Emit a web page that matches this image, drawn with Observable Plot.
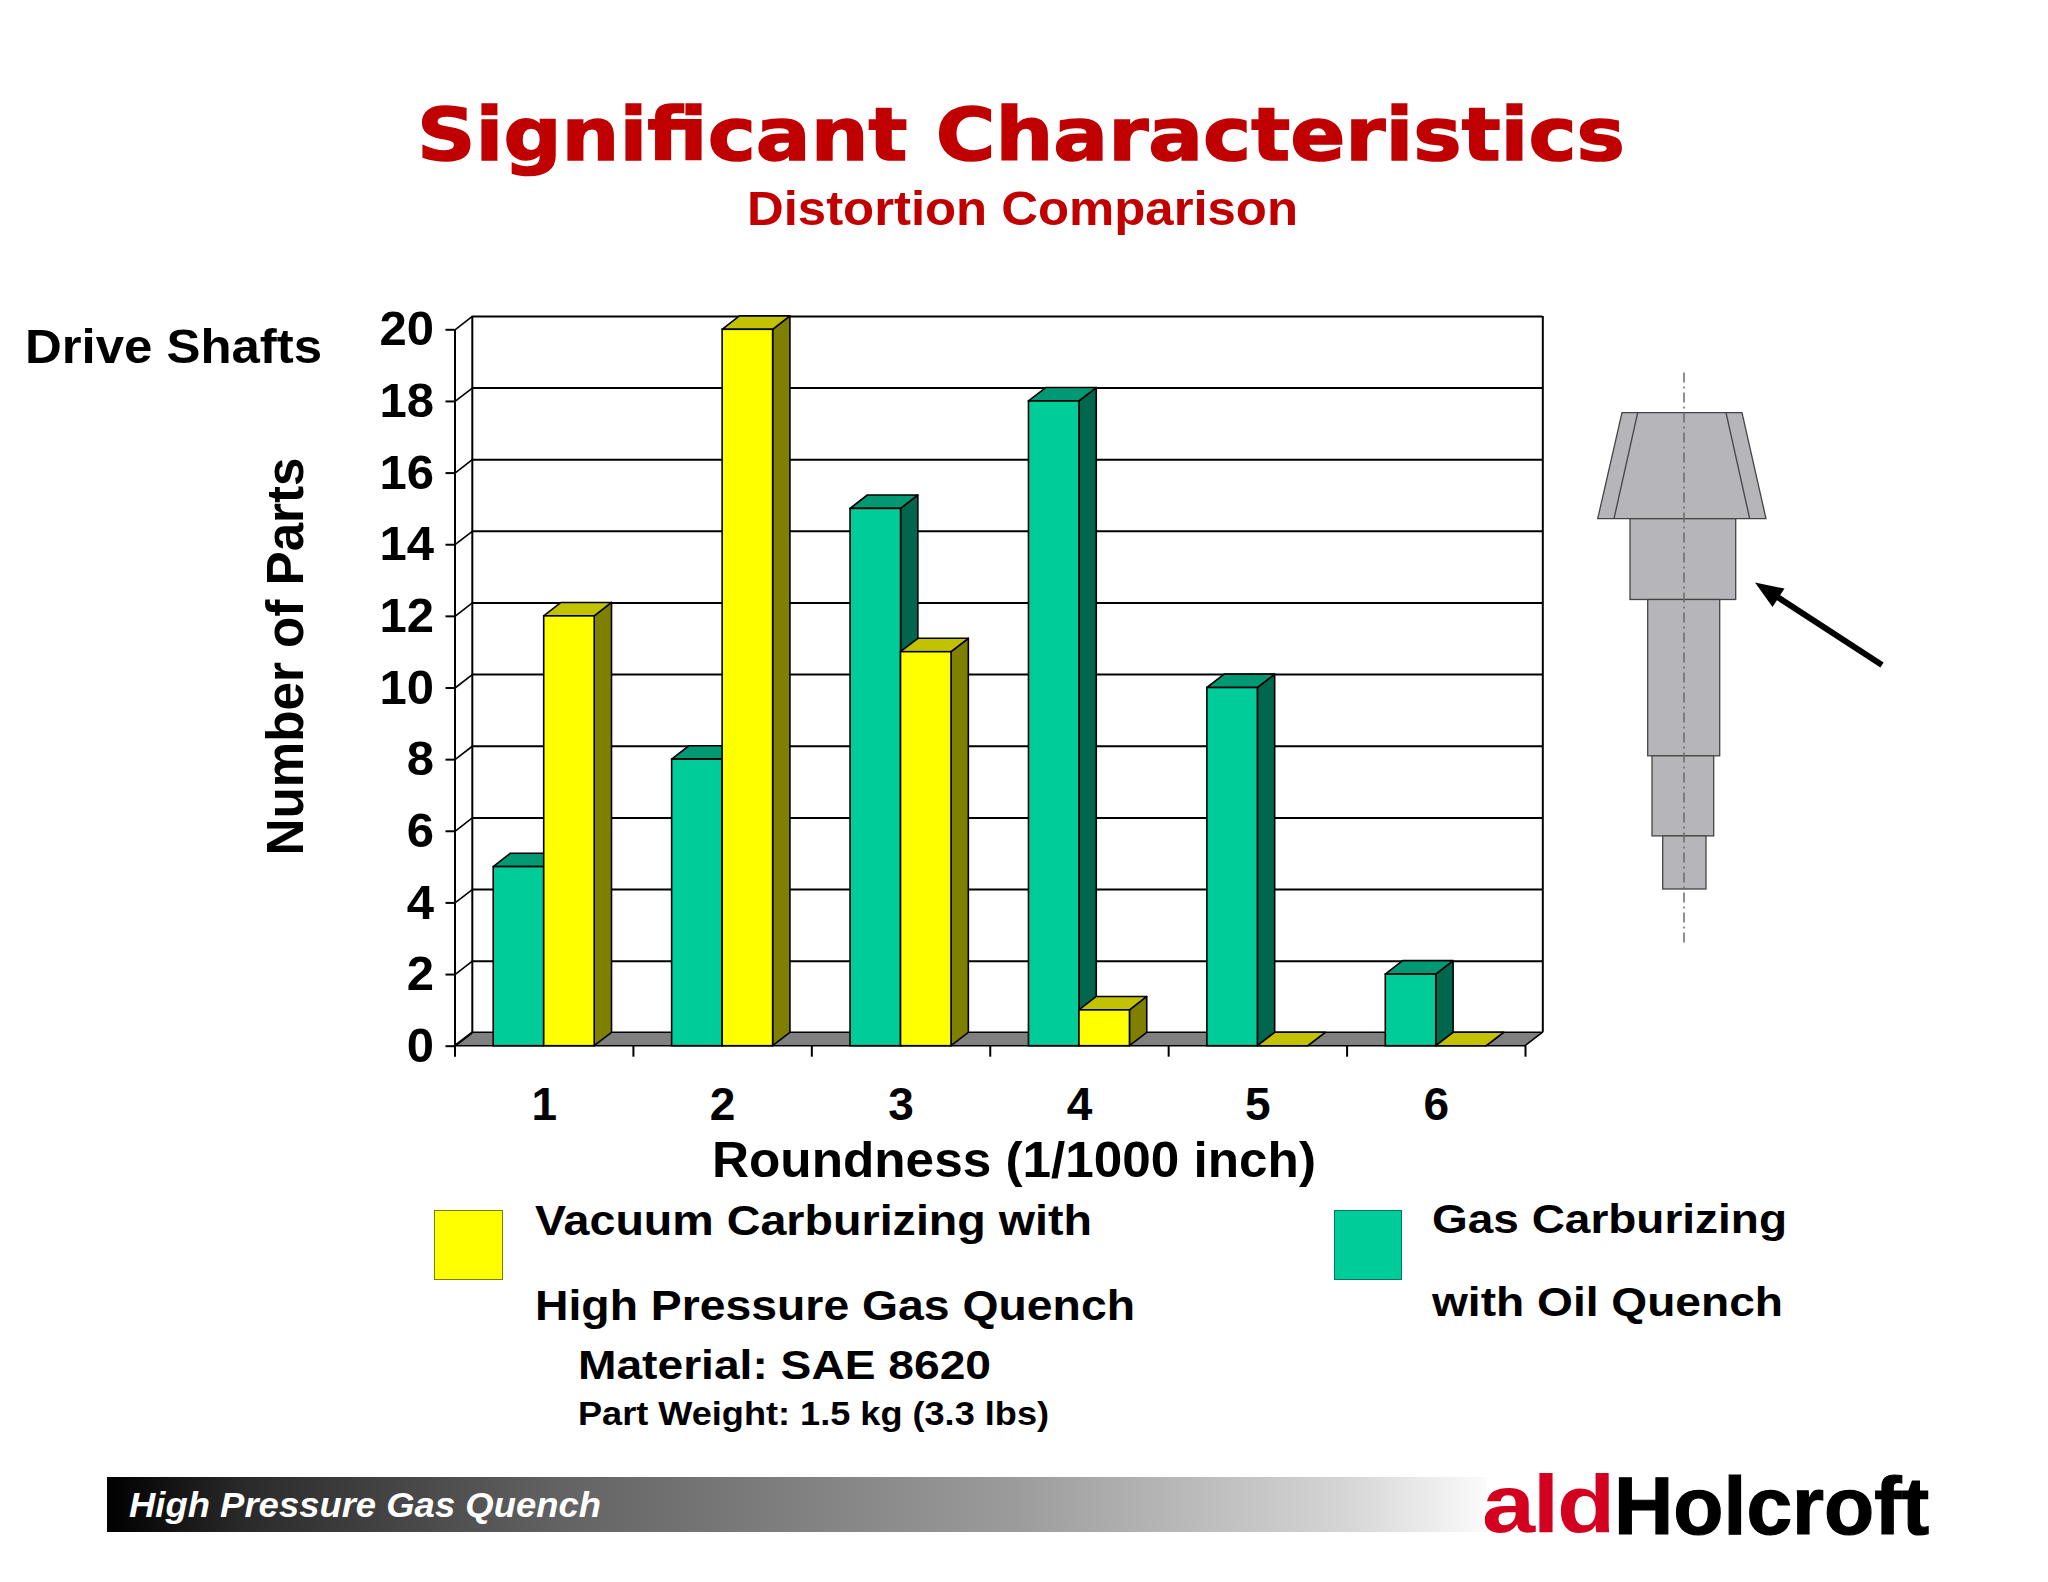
<!DOCTYPE html>
<html>
<head>
<meta charset="utf-8">
<script src="https://cdn.jsdelivr.net/npm/d3@7"></script>
<script src="https://cdn.jsdelivr.net/npm/@observablehq/plot@0.6"></script>
<style>
  html, body { margin: 0; padding: 0; background: #fff; }
  #page { position: relative; width: 2048px; height: 1582px; background: #fff; overflow: hidden; }
  #chart { position: absolute; left: 0; top: 0; }
  .t { position: absolute; white-space: nowrap; line-height: 1; font-family: "Liberation Sans", Arial, sans-serif; font-weight: bold; color: #000; transform-origin: 0 0; }
  .sw { position: absolute; box-sizing: border-box; }
  #deco { position: absolute; left: 0; top: 0; }
  #footbar { position: absolute; left: 107px; top: 1477px; width: 1380px; height: 55px;
    background: linear-gradient(to right, #000 0%, #2a2a2a 10%, #636363 33%, #9c9c9c 66%, #d6d6d6 90%, #fbfbfb 100%); }
</style>
</head>
<body>
<div id="page">
  <div id="chart"></div>
  <svg id="deco" width="2048" height="1582" viewBox="0 0 2048 1582">
    <g fill="#b5b5ba" stroke="#444" stroke-width="1.3">
      <polygon points="1622,412.7 1742,412.7 1766,518.7 1597.7,518.7"/>
      <line x1="1637.7" y1="412.7" x2="1614" y2="518.7"/>
      <line x1="1726" y1="412.7" x2="1749.7" y2="518.7"/>
      <rect x="1630" y="518.7" width="105.7" height="80.8"/>
      <rect x="1647.7" y="599.5" width="72" height="156.3"/>
      <rect x="1652" y="755.8" width="61.7" height="80.1"/>
      <rect x="1662.7" y="835.9" width="43.3" height="53.1"/>
    </g>
    <line x1="1684" y1="372.6" x2="1684" y2="944.6" stroke="#6a6a6a" stroke-width="1.5" stroke-dasharray="10 4 2 4"/>
    <line x1="1882" y1="665" x2="1776" y2="596" stroke="#000" stroke-width="6"/>
    <polygon points="1755,582.5 1784.5,588.6 1772.5,607" fill="#000"/>
  </svg>

  <div class="t fit" data-w="1208" style="left:416.7px; top:98.2px; font-size:73px; font-family:'DejaVu Sans', sans-serif; color:#c00000; -webkit-text-stroke:1.6px #c00000;">Significant Characteristics</div>
  <div class="t fit" data-w="551" style="left:747px; top:183.5px; font-size:49px; color:#c00000;">Distortion Comparison</div>
  <div class="t fit" data-w="297" style="left:25px; top:322.5px; font-size:48px;">Drive Shafts</div>
  <div class="t" id="ylab" style="font-size:51px;">Number of Parts</div>
  <div class="t fit" data-w="604" style="left:711.6px; top:1135px; font-size:50px;">Roundness (1/1000 inch)</div>

  <div class="sw" style="left:434.4px; top:1210px; width:69px; height:70px; background:#ffff00; border:1.5px solid #7d7d00;"></div>
  <div class="t fit" data-w="557" style="left:534.8px; top:1199.3px; font-size:43px;">Vacuum Carburizing with</div>
  <div class="t fit" data-w="600" style="left:534.8px; top:1284.3px; font-size:43px;">High Pressure Gas Quench</div>
  <div class="t fit" data-w="413" style="left:577.9px; top:1344.6px; font-size:41px;">Material: SAE 8620</div>
  <div class="t fit" data-w="471" style="left:577.9px; top:1396.5px; font-size:33px;">Part Weight: 1.5 kg (3.3 lbs)</div>

  <div class="sw" style="left:1334.4px; top:1210px; width:68px; height:70px; background:#00cc99; border:1.5px solid #007a5c;"></div>
  <div class="t fit" data-w="355" style="left:1432px; top:1198.6px; font-size:41px;">Gas Carburizing</div>
  <div class="t fit" data-w="351" style="left:1432px; top:1282px; font-size:41px;">with Oil Quench</div>

  <div id="footbar"></div>
  <div class="t fit" data-w="472" style="left:128.5px; top:1487.1px; font-size:35px; font-style:italic; color:#fff;">High Pressure Gas Quench</div>
  <div class="t fit" data-w="131" style="left:1482px; top:1462.6px; font-size:82px; color:#d4001f; letter-spacing:-2px;">ald</div>
  <div class="t fit" data-w="315" style="left:1614px; top:1464.6px; font-size:82px; color:#000; -webkit-text-stroke:1.2px #000;">Holcroft</div>
</div>

<script>
// ---- data ----
const categories = [1, 2, 3, 4, 5, 6];
const gasCarburizing = [5, 8, 15, 18, 10, 2];      // Gas Carburizing with Oil Quench
const vacuumCarburizing = [12, 20, 11, 1, 0, 0];   // Vacuum Carburizing with HPGQ
const yTicks = [0, 2, 4, 6, 8, 10, 12, 14, 16, 18, 20];
const xTickLabels = ["1", "2", "3", "4", "5", "6"];

// ---- 3D look (in data units) ----
const BW = 0.283;   // bar width (category units)
const DX = 0.097;   // depth offset along x
const DY = 0.374;   // depth offset along y

const seriesDefs = [
  {name: "Gas", values: gasCarburizing, offset: -BW, front: "#00cc99", side: "#00664d", top: "#009973"},
  {name: "Vacuum", values: vacuumCarburizing, offset: 0, front: "#ffff00", side: "#808000", top: "#c2c200"}
];

function barsFor(s) {
  return categories.map((c, i) => {
    const xl = c + s.offset, xr = xl + BW, v = s.values[i];
    return {id: s.name + c, xl, xr, v};
  });
}

function barMarks(s) {
  const bars = barsFor(s);
  const side = bars.flatMap(b => [
    {id: b.id, x: b.xr, y1: 0, y2: b.v},
    {id: b.id, x: b.xr + DX, y1: DY, y2: b.v + DY}
  ]);
  const top = bars.flatMap(b => [
    {id: b.id, y: b.v, x1: b.xl, x2: b.xr},
    {id: b.id, y: b.v + DY, x1: b.xl + DX, x2: b.xr + DX}
  ]);
  return [
    Plot.areaY(side, {x: d => d.x, y1: d => d.y1, y2: d => d.y2, z: d => d.id, fill: s.side, stroke: "#000", strokeWidth: 1.6}),
    Plot.areaX(top, {y: d => d.y, x1: d => d.x1, x2: d => d.x2, z: d => d.id, fill: s.top, stroke: "#000", strokeWidth: 1.6}),
    Plot.rect(bars, {x1: d => d.xl, x2: d => d.xr, y1: () => 0, y2: d => d.v, fill: s.front, stroke: "#000", strokeWidth: 1.6})
  ];
}

const xMin = categories[0] - 0.5, xMax = categories[categories.length - 1] + 0.5;
const bounds = categories.map(c => c - 0.5).concat([xMax]);
const floorPts = [{y: 0, x1: xMin, x2: xMax}, {y: DY, x1: xMin + DX, x2: xMax + DX}];

const chart = Plot.plot({
  width: 2048,
  height: 1582,
  marginLeft: 454.5,
  marginRight: 523,
  marginTop: 329.3,
  marginBottom: 536.3,
  x: {domain: [xMin, xMax]},
  y: {domain: [0, 20]},
  style: {fontFamily: "'Liberation Sans', Arial, sans-serif", fontWeight: "bold", color: "#000", background: "transparent", overflow: "visible"},
  marks: [
    // floor
    Plot.areaX(floorPts, {y: d => d.y, x1: d => d.x1, x2: d => d.x2, fill: "#808080", stroke: "#000", strokeWidth: 1.6}),
    // back wall grid lines
    Plot.ruleY(yTicks.filter(v => v > 0), {y: v => v + DY, x1: () => xMin + DX, x2: () => xMax + DX, stroke: "#000", strokeWidth: 2}),
    Plot.ruleX([xMin + DX, xMax + DX], {x: d => d, y1: () => DY, y2: () => 20 + DY, stroke: "#000", strokeWidth: 2}),
    // left wall slants
    Plot.link(yTicks, {x1: () => xMin, y1: v => v, x2: () => xMin + DX, y2: v => v + DY, stroke: "#000", strokeWidth: 1.6}),
    // front y axis line
    Plot.ruleX([xMin], {x: d => d, y1: () => 0, y2: () => 20, stroke: "#000", strokeWidth: 2}),
    // bars
    ...barMarks(seriesDefs[0]),
    ...barMarks(seriesDefs[1]),
    // axes
    Plot.axisY({ticks: yTicks, tickSize: 9, tickPadding: 12, fontSize: 49, fontWeight: "bold", label: null, strokeWidth: 2}),
    Plot.axisX({ticks: bounds, tickSize: 11, tickFormat: () => "", label: null, strokeWidth: 2}),
    Plot.axisX({ticks: categories, tickSize: 0, tickPadding: 41.6, fontSize: 46, fontWeight: "bold", label: null,
      tickFormat: d => xTickLabels[categories.indexOf(d)]})
  ]
});
document.getElementById("chart").appendChild(chart);

// ---- text fitting ----
function fitAll() {
  document.querySelectorAll(".fit").forEach(el => {
    el.style.transform = "none";
    const w = el.getBoundingClientRect().width;
    const target = +el.dataset.w;
    if (w > 0) el.style.transform = `scaleX(${target / w})`;
  });
  const yl = document.getElementById("ylab");
  yl.style.transform = "none";
  const r = yl.getBoundingClientRect();
  const k = 398 / r.width;
  yl.style.transformOrigin = "50% 50%";
  yl.style.left = (285 - r.width / 2) + "px";
  yl.style.top = (656 - r.height / 2) + "px";
  yl.style.transform = `rotate(-90deg) scaleX(${k})`;
}
fitAll();
if (document.fonts && document.fonts.ready) document.fonts.ready.then(fitAll);
</script>
</body>
</html>
